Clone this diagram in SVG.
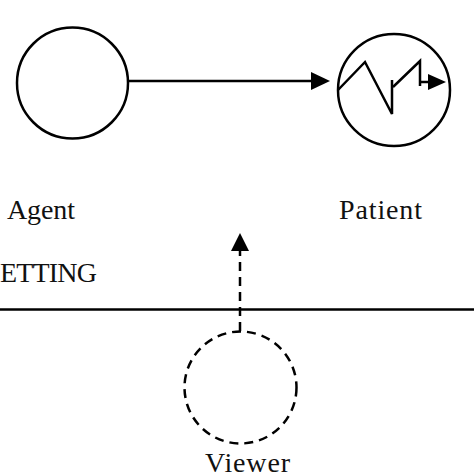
<svg xmlns="http://www.w3.org/2000/svg" width="474" height="474" viewBox="0 0 474 474">
<style>
.c{fill:none;stroke:#000;stroke-width:2.5}
.t{font-family:"Liberation Serif",serif;font-size:28px;fill:#111}
.l{fill:none;stroke:#000;stroke-width:2.5}
.d{stroke-dasharray:9,6}
</style>
<rect width="474" height="474" fill="#fff"/>
<g id="agent">
<circle class="c" cx="72.5" cy="83" r="55.5"/>
<text class="t" x="7" y="219" textLength="68" lengthAdjust="spacing">Agent</text>
</g>
<g id="patient">
<circle class="c" cx="394" cy="90" r="56"/>
<polyline class="l" points="338,90 365,62 392,114 392,80"/>
<polyline class="l" points="393,87 420,61 420,86"/>
<line class="l" x1="420" y1="82" x2="431" y2="82"/>
<polygon points="428,74 446,82 428,90" fill="#000"/>
<text class="t" x="339" y="219" textLength="83" lengthAdjust="spacing">Patient</text>
</g>
<g id="setting">
<line class="l" x1="0" y1="309.5" x2="474" y2="309.5"/>
<text class="t" x="0" y="282" textLength="97" lengthAdjust="spacing">ETTING</text>
</g>
<g id="viewer">
<circle class="c d" cx="240.5" cy="387.5" r="56"/>
<text class="t" x="205" y="472" textLength="85" lengthAdjust="spacing">Viewer</text>
</g>
<g id="connectors">
<line class="l" x1="129" y1="81" x2="313" y2="81"/>
<polygon points="311,72 330,81 311,90" fill="#000"/>
<line class="l d" x1="240" y1="331" x2="240" y2="250"/>
<polygon points="231,251 240,233 249,251" fill="#000"/>
</g>
</svg>
